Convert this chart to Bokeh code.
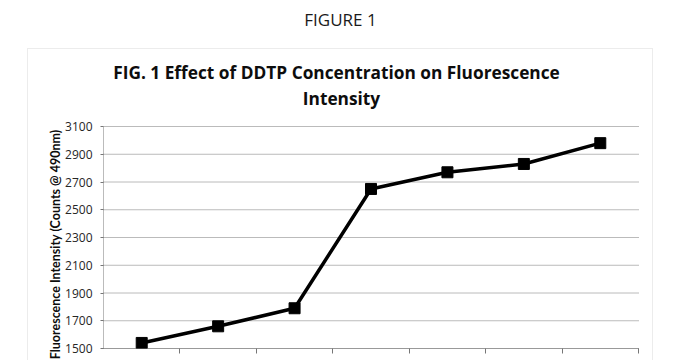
import math
from bokeh.plotting import figure
from bokeh.models import (Range1d, FixedTicker, Label, BoxAnnotation,
                          ColumnDataSource, LinearAxis)
from bokeh.embed import file_html
from bokeh.resources import INLINE

# ---- data ----
concentration_index = [1, 2, 3, 4, 5, 6, 7]
intensity = [1540, 1660, 1790, 2650, 2770, 2830, 2980]
y_ticks = [1500, 1700, 1900, 2100, 2300, 2500, 2700, 2900, 3100]
x_boundaries = [1.5, 2.5, 3.5, 4.5, 5.5, 6.5, 7.5]

figure_label = "FIGURE 1"
title_line1 = "FIG. 1 Effect of DDTP Concentration on Fluorescence"
title_line2 = "Intensity"
y_label = "Fluorescence Intensity (Counts @ 490nm)"

# ---- layout constants (pixels) ----
W, H = 686, 360
PL, PR, PT, PB = 103, 638, 126, 348      # plot area edges
X0, X1 = 0.5, 7.5                         # category band extent
Y0, Y1 = 1500, 3100                       # value axis extent

FONT = "Open Sans"
GRID = "#767676"

xs_per_px = (X1 - X0) / (PR - PL)
ys_per_px = (Y1 - Y0) / (PB - PT)

p = figure(width=W, height=H, output_backend="svg", toolbar_location=None,
           x_range=Range1d(X0 - PL * xs_per_px, X1 + (W - PR) * xs_per_px),
           y_range=Range1d(Y0 - (H - PB) * ys_per_px, Y1 + PT * ys_per_px),
           min_border=0, title=None, x_axis_type=None, y_axis_type=None)
p.outline_line_color = None
p.background_fill_color = "white"
p.border_fill_color = "white"
p.xgrid.visible = False
p.ygrid.visible = False

# chart border (dotted box)
p.add_layout(BoxAnnotation(left=27, right=652, top=H - 48, bottom=-20,
                           left_units="screen", right_units="screen",
                           top_units="screen", bottom_units="screen",
                           fill_color=None, line_color="#7f7f7f",
                           line_dash="1 1", line_width=1, level="underlay"))

# horizontal dotted gridlines across the plot area
n = len(y_ticks)
p.segment(x0=[X0] * n, y0=y_ticks, x1=[X1] * n, y1=y_ticks,
          line_color=GRID, line_dash="1 1", line_width=1)

# value axis
yaxis = LinearAxis(fixed_location=X0, bounds=(Y0, Y1),
                   ticker=FixedTicker(ticks=y_ticks))
yaxis.major_label_text_font = FONT
yaxis.major_label_text_font_size = "12px"
yaxis.major_label_text_color = "#262626"
yaxis.major_label_standoff = 8
yaxis.major_tick_in = 0
yaxis.major_tick_out = 3
yaxis.major_tick_line_color = GRID
yaxis.minor_tick_line_color = None
yaxis.axis_line_color = GRID
yaxis.axis_line_dash = "1 1"
p.add_layout(yaxis, "left")

# category axis (its labels lie below the visible area)
xaxis = LinearAxis(fixed_location=Y0, bounds=(X0, X1),
                   ticker=FixedTicker(ticks=x_boundaries),
                   major_label_overrides={t: "" for t in x_boundaries})
xaxis.major_tick_in = 0
xaxis.major_tick_out = 5
xaxis.major_tick_line_color = GRID
xaxis.minor_tick_line_color = None
xaxis.axis_line_color = GRID
xaxis.axis_line_dash = "1 1"
p.add_layout(xaxis, "below")

src = ColumnDataSource(dict(x=concentration_index, y=intensity))
p.line("x", "y", source=src, line_width=3.5, line_color="black")
p.scatter("x", "y", source=src, marker="square", size=11,
          fill_color="black", line_color="black", line_width=1)

# texts (screen units: from the canvas' bottom-left corner)
p.add_layout(Label(x=340, y=H - 19, x_units="screen", y_units="screen",
                   text=figure_label, text_font=FONT, text_font_size="17px",
                   text_align="center", text_baseline="alphabetic",
                   text_color="#1a1a1a"))
p.add_layout(Label(x=336, y=H - 72, x_units="screen", y_units="screen",
                   text=title_line1, text_font=FONT, text_font_size="17.3px",
                   text_font_style="bold", text_align="center",
                   text_baseline="alphabetic", text_color="#0d0d0d"))
p.add_layout(Label(x=341, y=H - 98, x_units="screen", y_units="screen",
                   text=title_line2, text_font=FONT, text_font_size="17.3px",
                   text_font_style="bold", text_align="center",
                   text_baseline="alphabetic", text_color="#0d0d0d"))
p.add_layout(Label(x=54.5, y=H - 129, x_units="screen", y_units="screen",
                   text=y_label, text_font="Lato", text_font_size="12.5px",
                   text_font_style="bold", angle=math.pi / 2,
                   text_align="right", text_baseline="middle",
                   text_color="#0d0d0d"))

open("out.html", "w").write(file_html(p, INLINE))
